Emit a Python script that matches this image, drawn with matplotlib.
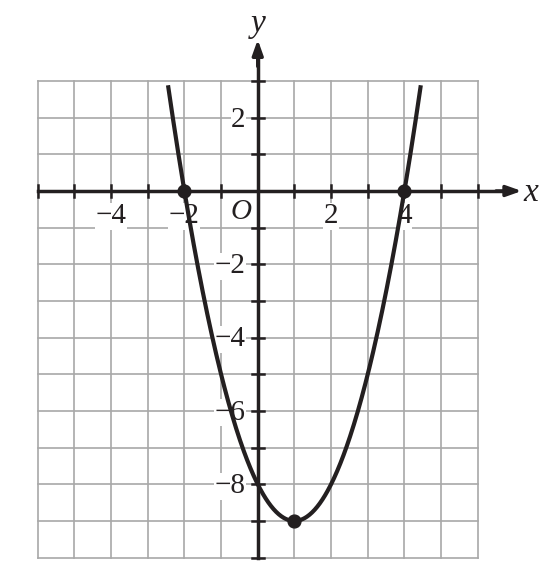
import numpy as np
import matplotlib
matplotlib.use("Agg")
import matplotlib.pyplot as plt

# parabola: roots and vertex
roots = [-2, 4]
vertex = (1, -9)
marked_x = [-2, 4, 1]
marked_y = [0, 0, -9]

x_ticks = [-4, -2, 2, 4]
y_ticks = [2, -2, -4, -6, -8]
grid_x = list(range(-6, 7))
grid_y = list(range(-10, 4))

ink = '#231f20'
gridc = '#a8a8a8'
plt.rcParams['font.family'] = ['Liberation Serif', 'DejaVu Serif']

fig = plt.figure(figsize=(5.56, 5.84), dpi=100)
ax = fig.add_axes([0, 0, 1, 1])
ax.set_xlim(-7.03, 8.135)
ax.set_ylim(-10.72, 5.21)
ax.axis('off')

# grid
for gx in grid_x:
    ax.plot([gx, gx], [grid_y[0], grid_y[-1]], color=gridc, lw=1.2, zorder=1)
for gy in grid_y:
    ax.plot([grid_x[0], grid_x[-1]], [gy, gy], color=gridc, lw=1.2, zorder=1)

# axes with arrows
ax.plot([grid_x[0], 6.8], [0, 0], color=ink, lw=2.5, zorder=3)
ax.plot([0, 0], [grid_y[0], 3.7], color=ink, lw=2.5, zorder=3)
ax.annotate('', xy=(7.2, 0), xytext=(6.5, 0),
            arrowprops=dict(arrowstyle='-|>,head_length=0.9,head_width=0.32',
                            color=ink, lw=2.5, shrinkA=0, shrinkB=0), zorder=3)
ax.annotate('', xy=(0, 4.13), xytext=(0, 3.4),
            arrowprops=dict(arrowstyle='-|>,head_length=0.9,head_width=0.32',
                            color=ink, lw=2.5, shrinkA=0, shrinkB=0), zorder=3)

# tick marks
tk = 0.16
for gx in grid_x:
    if gx != 0:
        ax.plot([gx, gx], [-tk, tk], color=ink, lw=1.8, zorder=3)
for gy in grid_y:
    if gy != 0:
        ax.plot([-tk, tk], [gy, gy], color=ink, lw=1.8, zorder=3)

# labels
box = dict(facecolor='white', edgecolor='none', pad=0.5)
for v in x_ticks:
    ax.text(v, -0.33, str(v).replace('-', '\u2212'), ha='center', va='top',
            fontsize=21, color=ink, bbox=box, zorder=4)
for v in y_ticks:
    ax.text(-0.33, v - 0.05, str(v).replace('-', '\u2212'), ha='right', va='center',
            fontsize=21, color=ink, bbox=box, zorder=4)
ax.text(-0.45, -0.22, 'O', ha='center', va='top', fontsize=21,
        style='italic', color=ink, bbox=box, zorder=4)
ax.text(7.45, -0.05, 'x', ha='center', va='center', fontsize=24,
        style='italic', color=ink)
ax.text(0, 4.55, 'y', ha='center', va='center', fontsize=24,
        style='italic', color=ink)

# curve y = (x - r1)(x - r2), clipped at the top of the grid
xs = np.linspace(-2.5, 4.5, 400)
ys = (xs - roots[0]) * (xs - roots[1])
keep = ys <= grid_y[-1]
ax.plot(xs[keep], ys[keep], color=ink, lw=3, zorder=5, solid_capstyle='butt')
ax.scatter(marked_x, marked_y, s=85, color=ink, zorder=6)

fig.savefig('out.png', dpi=100, facecolor='white')
